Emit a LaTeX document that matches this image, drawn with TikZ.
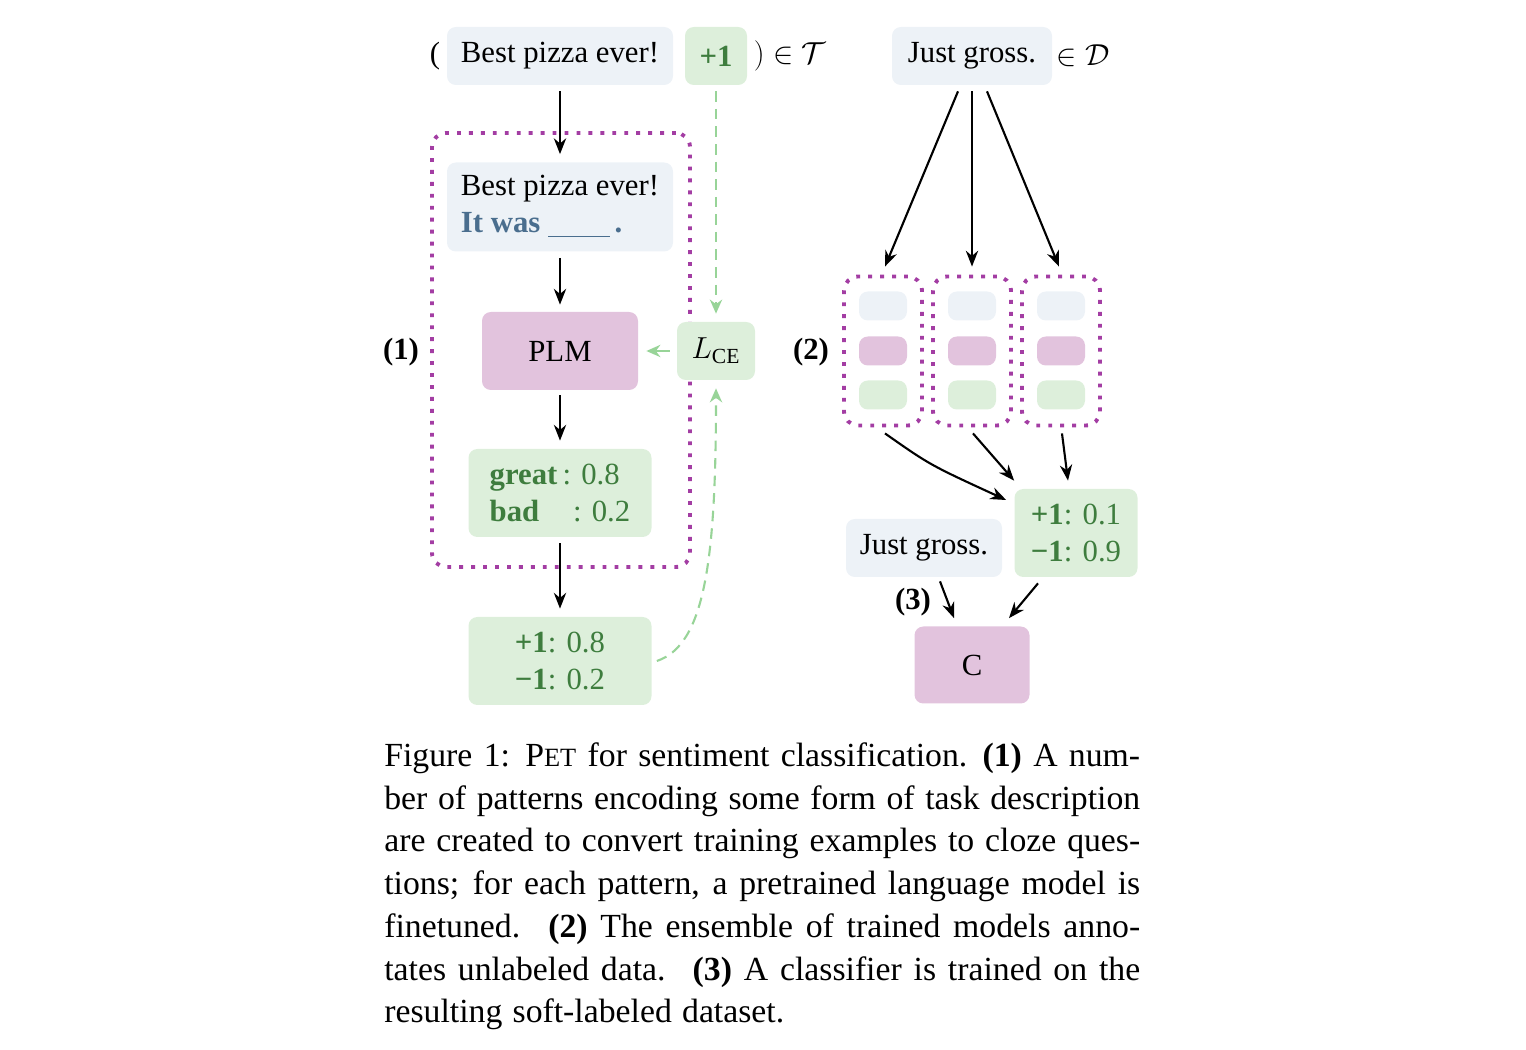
\documentclass[tikz,border=0pt]{standalone}
\usepackage{fontspec}
\setmainfont{Liberation Serif}
\usepackage{amsmath,amssymb}
\usetikzlibrary{arrows.meta,calc}
\definecolor{bgblue}{HTML}{EDF2F7}
\definecolor{bggreen}{HTML}{DDEFDB}
\definecolor{txtgreen}{HTML}{3E7D3E}
\definecolor{bgpink}{HTML}{E2C3DD}
\definecolor{dotpurple}{HTML}{A33DA3}
\definecolor{slate}{HTML}{4A6E8E}
\definecolor{dashgreen}{HTML}{98D498}
\newcommand{\capstrut}{\vrule height 0.6cm depth 0.22cm width 0pt}
\newcommand{\capline}[1]{\hbox to 15.12cm{\capstrut\spaceskip=0.25em plus 1em minus 0.05em\relax #1}}
\begin{document}
\begin{tikzpicture}[x=0.02cm,y=-0.02cm,
    font=\fontsize{17.5}{21}\selectfont,
    box/.style={rectangle, rounded corners=5pt, inner sep=0pt, align=center},
    inp/.style={box, fill=bgblue},
    outp/.style={box, fill=bggreen, text=txtgreen},
    model/.style={box, fill=bgpink},
    grp/.style={rectangle, rounded corners=8pt, draw=dotpurple, line width=2.2pt, dash pattern=on 2.2pt off 4.6pt},
    arrow/.style={-{Stealth[length=9pt,width=7pt]}, line width=1.2pt},
    garrow/.style={-{Stealth[length=8pt,width=7pt]}, line width=1.2pt, draw=dashgreen, dash pattern=on 6pt off 4pt}
]
\useasboundingbox (0,0) rectangle (1526,1050);

% training example
\node[inp, minimum width=226*0.02cm, minimum height=58*0.02cm] (bp1) at (560,56) {Best pizza ever!};
\node[outp, minimum width=62*0.02cm, minimum height=58*0.02cm] (plus1) at (716,56) {\textbf{+1}};
\node (lpar) at (435,56) {(};
\node (inT) at (790,56) {$)\in\mathcal{T}$};

% pattern / PLM group (1)
\node[grp, minimum width=258*0.02cm, minimum height=434*0.02cm] (g1) at (561,350) {};
\node (l1) at (401,352) {\textbf{(1)}};
\node[inp, minimum width=226*0.02cm, minimum height=89*0.02cm, align=left] (bp2) at (560,207)
  {Best pizza ever!\\{\color{slate}\textbf{It was} \underline{\phantom{xxxx}}\,\textbf{.}}};
\node[model, minimum width=156*0.02cm, minimum height=78*0.02cm] (plm) at (560,351) {PLM};
\node[outp, minimum width=78*0.02cm, minimum height=58*0.02cm] (lce) at (716,351) {\color{black}$L_{\text{CE}}$};
\node[outp, minimum width=183*0.02cm, minimum height=88*0.02cm, align=left] (out1) at (560,493)
  {\textbf{great}\,: 0.8\\\textbf{bad}\hspace{1.1em}: 0.2};
\node[outp, minimum width=183*0.02cm, minimum height=88*0.02cm] (out2) at (560,661)
  {\textbf{+1}: 0.8\\\textbf{\textminus1}: 0.2};

\draw[arrow] ($(bp1.south)+(0,6)$) -- ($(bp2.north)+(0,-8)$);
\draw[arrow] ($(bp2.south)+(0,6)$) -- ($(plm.north)+(0,-7)$);
\draw[arrow] ($(plm.south)+(0,5)$) -- ($(out1.north)+(0,-8)$);
\draw[arrow] ($(out1.south)+(0,6)$) -- ($(out2.north)+(0,-8)$);
\draw[garrow] ($(plus1.south)+(0,6)$) -- ($(lce.north)+(0,-8)$);
\draw[garrow] ($(out2.east)+(5,0)$) .. controls (705,645) and (716,560) .. ($(lce.south)+(0,8)$);
\draw[-{Stealth[length=8pt,width=7pt]}, line width=1.2pt, draw=dashgreen] ($(lce.west)+(-7,0)$) -- ($(plm.east)+(8,0)$);

% unlabeled data
\node[inp, minimum width=160*0.02cm, minimum height=58*0.02cm] (jg1) at (972,56) {Just gross.};
\node (inD) at (1083,56) {$\in\mathcal{D}$};
\node (l2) at (811,352) {\textbf{(2)}};
\foreach \i/\x in {a/883,b/972,c/1061}{
  \node[grp, minimum width=78*0.02cm, minimum height=149*0.02cm] (g\i) at (\x,351) {};
  \node[inp, minimum width=48*0.02cm, minimum height=29*0.02cm] (s\i1) at (\x,306) {};
  \node[model, minimum width=48*0.02cm, minimum height=29*0.02cm] (s\i2) at (\x,351) {};
  \node[box, fill=bggreen, minimum width=48*0.02cm, minimum height=29*0.02cm] (s\i3) at (\x,395) {};
}
\draw[arrow] ($(jg1.south)+(-14,6)$) -- ($(ga.north)+(2,-8)$);
\draw[arrow] ($(jg1.south)+(0,6)$) -- ($(gb.north)+(0,-8)$);
\draw[arrow] ($(jg1.south)+(15,6)$) -- ($(gc.north)+(-2,-8)$);

\node[outp, minimum width=123*0.02cm, minimum height=88*0.02cm] (soft) at (1076,533)
  {\textbf{+1}: 0.1\\\textbf{\textminus1}: 0.9};
\node[inp, minimum width=156*0.02cm, minimum height=58*0.02cm] (jg2) at (924,548) {Just gross.};
\node[model, minimum width=115*0.02cm, minimum height=77*0.02cm] (c) at (972,665) {C};
\node (l3) at (913,602) {\textbf{(3)}};

\draw[arrow] ($(ga.south)+(2,6)$) .. controls (930,465) .. ($(soft.west)+(-8,-33)$);
\draw[arrow] ($(gb.south)+(1,6)$) -- ($(soft.north west)+(0,-8)$);
\draw[arrow] ($(gc.south)+(1,6)$) -- ($(soft.north)+(-8,-8)$);
\draw[arrow] ($(jg2.south)+(16,4)$) -- ($(c.north)+(-18,-8)$);
\draw[arrow] ($(soft.south)+(-38,6)$) -- ($(c.north)+(37,-8)$);

% caption
\node[anchor=north west, inner sep=0pt, text width=15.12cm, align=left] (cap) at (384,736) {%
\fontsize{19.2}{23.3}\selectfont\offinterlineskip
\capline{Figure 1: P{\fontsize{15}{15}\selectfont ET} for sentiment classification. \textbf{(1)} A num-}
\capline{ber of patterns encoding some form of task description}
\capline{are created to convert training examples to cloze ques-}
\capline{tions; for each pattern, a pretrained language model is}
\capline{finetuned. \ \textbf{(2)} The ensemble of trained models anno-}
\capline{tates unlabeled data. \ \textbf{(3)} A classifier is trained on the}
\hbox{\capstrut resulting soft-labeled dataset.}};
\end{tikzpicture}
\end{document}
